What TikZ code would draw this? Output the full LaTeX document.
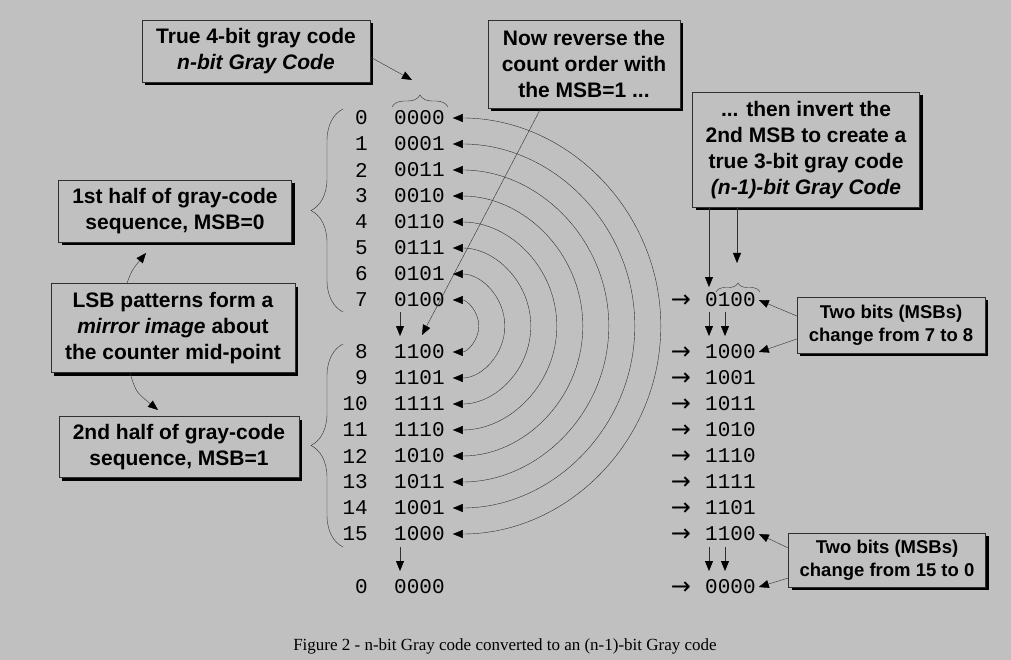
\documentclass[tikz,border=0pt]{standalone}
\usepackage{fontspec}
\setmainfont{Liberation Sans}
\newfontfamily\codefont{Liberation Mono}
\newfontfamily\capfont{Liberation Serif}
\newfontfamily\symfont{DejaVu Sans}
\usetikzlibrary{arrows.meta,shadows,decorations.pathreplacing}
\definecolor{bg}{HTML}{C0C0C0}
\definecolor{ln}{HTML}{303030}
\begin{document}
\begin{tikzpicture}[x=1pt,y=-1pt,
  box/.style={draw=ln,fill=bg,align=center,inner sep=0pt,font=\fontsize{21}{26}\selectfont\bfseries,
    drop shadow={shadow xshift=3pt,shadow yshift=-3pt,opacity=1,fill=black}},
  code/.style={font=\fontsize{21}{21}\selectfont\codefont,inner sep=0pt},
  sym/.style={font=\fontsize{24}{24}\selectfont\symfont,inner sep=0pt},
  tip/.tip={Triangle[length=10pt,width=8pt,fill=black,color=black]},
  arr/.style={-tip,ln},
  arc2/.style={tip-tip,ln},
  brc/.style={decorate,ln,decoration={brace,amplitude=#1}}]
\fill[bg] (0,0) rectangle (1011,660);
\useasboundingbox (0,0) rectangle (1011,660);
% left column
\foreach \c [count=\n from 0] in {0000,0001,0011,0010,0110,0111,0101,0100,1100,1101,1111,1110,1010,1011,1001,1000}{
  \pgfmathsetmacro\yy{\n<8 ? 118+26*\n : 352+26*(\n-8)}
  \node[code,anchor=east] (n\n) at (368,\yy) {\n};
  \node[code,anchor=west] (c\n) at (394,\yy) {\c};
}
\node[code,anchor=east] (nf) at (368,587) {0};
\node[code,anchor=west] (cf) at (394,587) {0000};
% arcs
\foreach \i in {0,...,7}{
  \pgfmathsetmacro\r{208-26*\i}
  \draw[arc2] ([xshift=8pt]c\i.east) arc[start angle=90,end angle=-90,radius=\r pt];
}
% right column
\foreach \c [count=\n from 7] in {0100,1000,1001,1011,1010,1110,1111,1101,1100}{
  \pgfmathsetmacro\yy{\n<8 ? 300 : 352+26*(\n-8)}
  \node[sym] (a\n) at (681,\yy+1) {→};
  \node[code,anchor=west] (r\n) at (705,\yy) {\c};
}
\node[sym] (af) at (681,588) {→};
\node[code,anchor=west] (rf) at (705,587) {0000};
% boxes
\node[box,minimum width=228pt,minimum height=62pt] (b1) at (256,51) {True 4-bit gray code\\\itshape n-bit Gray Code};
\node[box,minimum width=192pt,minimum height=88pt] (b2) at (584,64) {Now reverse the\\count order with\\the MSB=1 ...};
\node[box,minimum width=227pt,minimum height=115pt] (b3) at (806,150) {... then invert the\\2nd MSB to create a\\true 3-bit gray code\\\itshape (n-1)-bit Gray Code};
\node[box,minimum width=233pt,minimum height=62pt] (b4) at (175,211) {1st half of gray-code\\sequence, MSB=0};
\node[box,minimum width=244pt,minimum height=89pt] (b5) at (173,328) {LSB patterns form a\\{\itshape mirror image} about\\the counter mid-point};
\node[box,minimum width=240pt,minimum height=61pt] (b6) at (179,447) {2nd half of gray-code\\sequence, MSB=1};
\node[box,minimum width=188pt,minimum height=56pt,font=\fontsize{18.5}{23}\selectfont\bfseries] (b7) at (891,325) {Two bits (MSBs)\\change from 7 to 8};
\node[box,minimum width=197pt,minimum height=54pt,font=\fontsize{18.5}{23}\selectfont\bfseries] (b8) at (887,560) {Two bits (MSBs)\\change from 15 to 0};
% coordinates
\coordinate (t1) at (412,80);
\coordinate (m7) at (400,336);
\coordinate (m8) at (422,335);
\coordinate (mf) at (400,571);
% connectors
\draw[arr] (b1.east |- 0,57) -- (t1);
\draw[arr] (541,108) -- (m8);
\draw[arr] (400,312) -- (m7);
\draw[arr] (400,547) -- (mf);
\draw[arr] (709,208) -- (709,287);
\draw[arr] (737,208) -- (737,263);
\draw[arr] (709,312) -- (709,336);
\draw[arr] (725,312) -- (725,336);
\draw[arr] (709,547) -- (709,571);
\draw[arr] (725,547) -- (725,571);
\draw[arr] (b7.west |- 0,316) -- ([xshift=3pt]r7.east);
\draw[arr] (b7.west |- 0,339) -- ([xshift=3pt]r8.east);
\draw[arr] (b8.west |- 0,548) -- ([xshift=3pt]r15.east);
\draw[arr] (b8.west |- 0,578) -- ([xshift=3pt]rf.east);
\draw[arr] (127,283) .. controls (132,270) .. (146,253);
\draw[arr] (130,373) .. controls (136,392) .. (158,410);
% braces
\draw[brc=12pt] (392,107) -- (448,107);
\draw[brc=9pt] (716,292) -- (760,292);
\draw[brc=32pt] (343,312) -- (343,109);
\draw[brc=32pt] (343,547) -- (343,344);
% caption
\node[font=\fontsize{17}{17}\selectfont\capfont] (cap) at (505,646) {Figure 2 - n-bit Gray code converted to an (n-1)-bit Gray code};
\end{tikzpicture}
\end{document}
